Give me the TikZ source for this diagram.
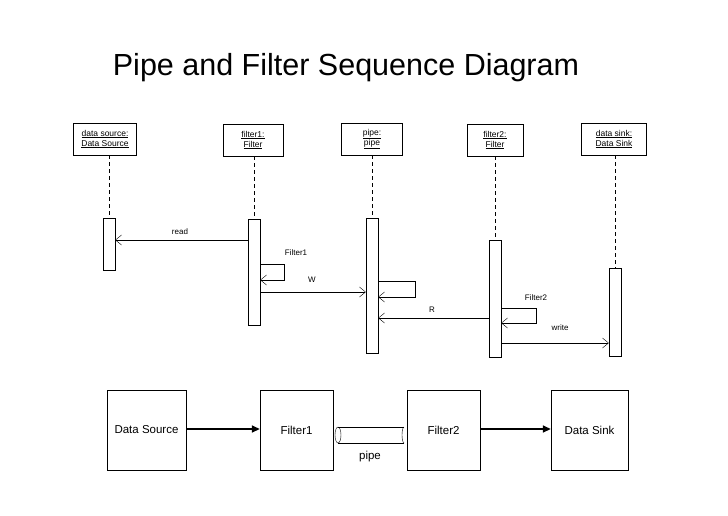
\documentclass[tikz,border=0pt]{standalone}
\usepackage{fontspec}
\setmainfont{Liberation Sans}
\usetikzlibrary{arrows.meta,shapes.geometric}
\begin{document}
\begin{tikzpicture}[x=1pt,y=-1pt,
  hd/.style={draw,minimum height=32pt,inner sep=1pt,font=\fontsize{8.5}{10}\selectfont,align=center},
  act/.style={draw,fill=white,minimum width=12pt,inner sep=0pt},
  life/.style={dash pattern=on 4pt off 3pt},
  msg/.style={-{Straight Barb[length=6pt,width=10pt]}},
  lab/.style={font=\fontsize{8}{9}\selectfont},
  big/.style={draw,minimum width=78pt,minimum height=80pt,font=\fontsize{11.5}{13}\selectfont},
  fat/.style={line width=1.5pt,-{Triangle[length=8pt,width=7pt]}}]
\useasboundingbox (0,0) rectangle (728,515);
\node[font=\fontsize{30.5}{36}\selectfont] (title) at (346,68) {Pipe and Filter Sequence Diagram};
% heads
\node[hd,minimum width=63pt] (h1) at (105,139) {\underline{data source:}\\\underline{Data Source}};
\node[hd,minimum width=60pt] (h2) at (253,140) {\underline{filter1:}\\\underline{Filter}};
\node[hd,minimum width=61pt] (h3) at (372,139) {\underline{pipe:}\\\underline{pipe}};
\node[hd,minimum width=56pt] (h4) at (495,140) {\underline{filter2:}\\\underline{Filter}};
\node[hd,minimum width=65pt] (h5) at (614,139) {\underline{data sink:}\\\underline{Data Sink}};
% activations
\node[act,minimum height=52pt] (a1) at (109,244) {};
\node[act,minimum height=106pt] (a2) at (254,272) {};
\node[act,minimum height=135pt] (a3) at (372,285.5) {};
\node[act,minimum height=117pt] (a4) at (495,298.5) {};
\node[act,minimum height=88pt] (a5) at (615,312) {};
\draw[life] (h1.south -| a1) -- (a1.north);
\draw[life] (h2.south -| a2) -- (a2.north);
\draw[life] (h3.south -| a3) -- (a3.north);
\draw[life] (h4.south -| a4) -- (a4.north);
\draw[life] (h5.south -| a5) -- (a5.north);
% messages
\coordinate (r1) at (a2.west |- 0,240);
\draw[msg] (r1) -- (r1 -| a1.east);
\node[lab] (lread) at (180,232) {read};
\coordinate (s1) at (a2.east |- 0,264);
\draw[msg] (s1) -- ++(24,0) -- ++(0,16) -- (a2.east |- 0,280);
\node[lab] (lf1) at (296,253) {Filter1};
\coordinate (w1) at (a2.east |- 0,292);
\draw[msg] (w1) -- (w1 -| a3.west);
\node[lab] (lw) at (312,280) {W};
\coordinate (s2) at (a3.east |- 0,281);
\draw[msg] (s2) -- ++(37,0) -- ++(0,16) -- (a3.east |- 0,297);
\coordinate (rr) at (a4.west |- 0,318);
\draw[msg] (rr) -- (rr -| a3.east);
\node[lab] (lr) at (432,310) {R};
\coordinate (s3) at (a4.east |- 0,308);
\draw[msg] (s3) -- ++(35,0) -- ++(0,15) -- (a4.east |- 0,323);
\node[lab] (lf2) at (536,298) {Filter2};
\coordinate (wr) at (a4.east |- 0,343);
\draw[msg] (wr) -- (wr -| a5.west);
\node[lab] (lwr) at (560,328) {write};
% bottom
\node[big,minimum width=79pt] (b1) at (146.5,430) {Data Source};
\node[big,minimum width=73pt] (b2) at (296.5,430) {Filter1};
\node[big,minimum width=73pt] (b3) at (443.5,430) {Filter2};
\node[big,minimum width=77pt] (b4) at (589.5,430) {Data Sink};
\draw[fat] (b1.east |- 0,429) -- (b2.west |- 0,429);
\draw[fat] (b3.east |- 0,429) -- (b4.west |- 0,429);
% pipe cylinder
\coordinate (cl) at (338,435);
\coordinate (cr) at (404,435);
\draw (cl) ++(0,-8) -- ++(66,0) (cl) ++(0,8) -- ++(66,0);
\draw (cl) ellipse [x radius=3pt,y radius=8pt];
\draw (cr) ++(0,-8) arc[start angle=90,end angle=270,x radius=2pt,y radius=8pt];
\node[font=\fontsize{11.5}{13}\selectfont] (lpipe) at (370,457) {pipe};
\end{tikzpicture}
\end{document}
